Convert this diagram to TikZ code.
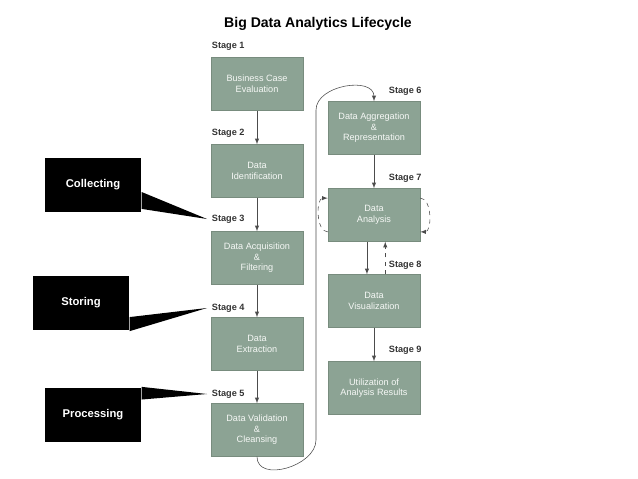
\documentclass[tikz,border=0pt]{standalone}
\usepackage{fontspec}
\setmainfont{Liberation Sans}
\usetikzlibrary{arrows,positioning,calc}
\definecolor{stagegreen}{RGB}{140,163,148}
\definecolor{stageedge}{RGB}{120,140,126}
\tikzset{
  stage/.style={draw=stageedge, fill=stagegreen, minimum width=2.3cm, minimum height=1.32cm,
    inner sep=0pt, align=center, text=white!92!stagegreen, font=\fontsize{6.5}{7.5}\selectfont},
  stagelbl/.style={anchor=west, font=\bfseries\fontsize{6.5}{7}\selectfont, text=black!80},
  flow/.style={draw=black!70, -latex},
  callout/.style={fill=black, text=white, minimum width=2.42cm, minimum height=1.35cm, font=\bfseries\fontsize{8}{9}\selectfont}
}
\begin{document}
\begin{tikzpicture}[x=0.025cm,y=-0.025cm]
\useasboundingbox (0,0) rectangle (638,479);
\node [font=\bfseries\fontsize{10}{12}\selectfont] (title) at (318,24) {Big Data Analytics Lifecycle};

% left column
\node [stage] (s1) at (257,84) {Business Case\\Evaluation};
\node [stage] (s2) at (257,171) {Data\\Identification};
\node [stage] (s3) at (257,258) {Data Acquisition\\\&\\Filtering};
\node [stage] (s4) at (257,344) {Data\\Extraction};
\node [stage] (s5) at (257,430) {Data Validation\\\&\\Cleansing};
% right column
\node [stage] (s6) at (374,128) {Data Aggregation\\\&\\Representation};
\node [stage] (s7) at (374,215) {Data\\Analysis};
\node [stage] (s8) at (374,301) {Data\\Visualization};
\node [stage] (s9) at (374,388) {Utilization of\\Analysis Results};

\node [stagelbl] (l1) at (207,46) {Stage 1};
\node [stagelbl] (l2) at (207,133) {Stage 2};
\node [stagelbl] (l3) at (207,219) {Stage 3};
\node [stagelbl] (l4) at (207,308) {Stage 4};
\node [stagelbl] (l5) at (207,394) {Stage 5};
\node [stagelbl] (l6) at (384,91) {Stage 6};
\node [stagelbl] (l7) at (384,178) {Stage 7};
\node [stagelbl] (l8) at (384,265) {Stage 8};
\node [stagelbl] (l9) at (384,350) {Stage 9};

\foreach \a/\b in {s1/s2,s2/s3,s3/s4,s4/s5,s6/s7,s8/s9}
  \draw [flow] (\a) -- (\b);
\draw [flow] ([xshift=-5]s7.south) -- ([xshift=-5]s8.north);
\draw [flow, dashed] ([xshift=8]s8.north) -- ([xshift=8]s7.south);
\draw [flow, dashed] ([yshift=-12]s7.west) to [out=180,in=180,looseness=0.9] ([yshift=12]s7.west);
\draw [flow, dashed] ([yshift=12]s7.east) to [out=0,in=0,looseness=0.9] ([yshift=-12]s7.east);

% loop from stage 5 to stage 6
\draw [flow] (s5.south) to [out=-90,in=-90,looseness=1.1] (316,440) -- (316,110)
  to [out=90,in=90,looseness=1.1] (s6.north);

% callouts
\node [callout] (collect) at (93,185) {Collecting};
\node [callout] (store) at (81,303) {Storing};
\node [callout] (process) at (93,415) {Processing};
\fill ([yshift=-5]collect.east) -- (l3.west) -- ([yshift=-17]collect.east) -- cycle;
\fill ([yshift=-10]store.east) -- (l4.west) -- ([yshift=-20]store.east) -- cycle;
\fill ([yshift=20]process.east) -- (l5.west) -- ([yshift=11]process.east) -- cycle;
\end{tikzpicture}
\end{document}
